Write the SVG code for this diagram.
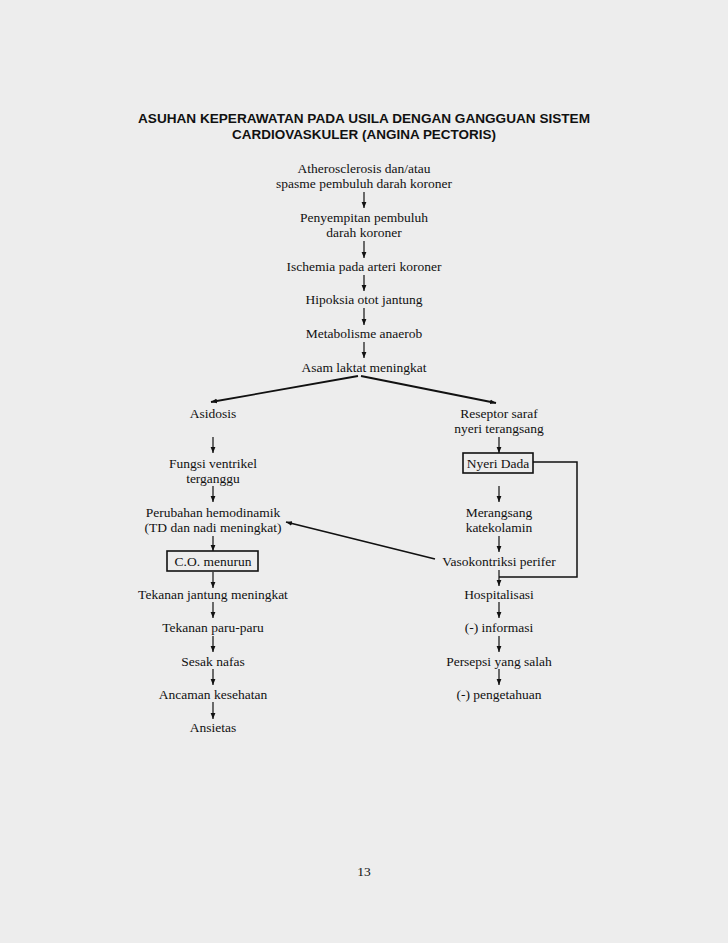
<svg xmlns="http://www.w3.org/2000/svg" width="728" height="943" viewBox="0 0 728 943">
<defs>
<marker id="ah" markerUnits="userSpaceOnUse" markerWidth="6" markerHeight="6" viewBox="0 0 6 6" refX="6" refY="3" orient="auto">
<path d="M0,0.6 L6,3 L0,5.4 Z" fill="#111"/>
</marker>
<style>
.t{font-family:"Liberation Serif","Times New Roman",serif;font-size:13.5px;fill:#111;text-anchor:middle}
.h{font-family:"Liberation Sans",Arial,sans-serif;font-size:13.5px;font-weight:bold;fill:#111;text-anchor:middle}
.a{stroke:#111;stroke-width:1.2;fill:none;marker-end:url(#ah)}
.l{stroke:#111;stroke-width:1.5;fill:none}
.b{stroke:#111;stroke-width:1.6;fill:none}
</style>
</defs>
<rect width="728" height="943" fill="#ededed"/>
<g id="title">
<text class="h" x="364" y="123" textLength="452" lengthAdjust="spacingAndGlyphs">ASUHAN KEPERAWATAN PADA USILA DENGAN GANGGUAN SISTEM</text>
<text class="h" x="364" y="139" textLength="264" lengthAdjust="spacingAndGlyphs">CARDIOVASKULER (ANGINA PECTORIS)</text>
</g>
<g id="n1"><text class="t" x="364" y="173">Atherosclerosis dan/atau</text><text class="t" x="364" y="188">spasme pembuluh darah koroner</text></g>
<g id="n2"><text class="t" x="364" y="222">Penyempitan pembuluh</text><text class="t" x="364" y="237">darah koroner</text></g>
<g id="n3"><text class="t" x="364" y="271">Ischemia pada arteri koroner</text></g>
<g id="n4"><text class="t" x="364" y="304">Hipoksia otot jantung</text></g>
<g id="n5"><text class="t" x="364" y="338">Metabolisme anaerob</text></g>
<g id="n6"><text class="t" x="364" y="372">Asam laktat meningkat</text></g>
<g id="l1"><text class="t" x="213" y="418">Asidosis</text></g>
<g id="l2"><text class="t" x="213" y="468">Fungsi ventrikel</text><text class="t" x="213" y="483">terganggu</text></g>
<g id="l3"><text class="t" x="213" y="517">Perubahan hemodinamik</text><text class="t" x="213" y="532">(TD dan nadi meningkat)</text></g>
<g id="l4"><rect class="b" x="167" y="551" width="91" height="20"/><text class="t" x="213" y="566">C.O. menurun</text></g>
<g id="l5"><text class="t" x="213" y="599">Tekanan jantung meningkat</text></g>
<g id="l6"><text class="t" x="213" y="632">Tekanan paru-paru</text></g>
<g id="l7"><text class="t" x="213" y="666">Sesak nafas</text></g>
<g id="l8"><text class="t" x="213" y="699">Ancaman kesehatan</text></g>
<g id="l9"><text class="t" x="213" y="732">Ansietas</text></g>
<g id="r1"><text class="t" x="499" y="418">Reseptor saraf</text><text class="t" x="499" y="433">nyeri terangsang</text></g>
<g id="r2"><rect class="b" x="463" y="453" width="70" height="20"/><text class="t" x="498" y="468">Nyeri Dada</text></g>
<g id="r3"><text class="t" x="499" y="517">Merangsang</text><text class="t" x="499" y="532">katekolamin</text></g>
<g id="r4"><text class="t" x="499" y="566">Vasokontriksi perifer</text></g>
<g id="r5"><text class="t" x="499" y="599">Hospitalisasi</text></g>
<g id="r6"><text class="t" x="499" y="632">(-) informasi</text></g>
<g id="r7"><text class="t" x="499" y="666">Persepsi yang salah</text></g>
<g id="r8"><text class="t" x="499" y="699">(-) pengetahuan</text></g>
<g id="page"><text class="t" x="364" y="876">13</text></g>
<g id="connectors">
<line class="a" x1="364" y1="192" x2="364" y2="208"/>
<line class="a" x1="364" y1="241" x2="364" y2="258"/>
<line class="a" x1="364" y1="275" x2="364" y2="291"/>
<line class="a" x1="364" y1="308" x2="364" y2="325"/>
<line class="a" x1="364" y1="342" x2="364" y2="358"/>
<line class="a" x1="358" y1="376" x2="211" y2="402" style="stroke-width:1.8"/>
<line class="a" x1="361" y1="376" x2="496" y2="403" style="stroke-width:1.8"/>
<line class="a" x1="213" y1="437" x2="213" y2="453"/>
<line class="a" x1="213" y1="486" x2="213" y2="502"/>
<line class="a" x1="213" y1="536" x2="213" y2="551"/>
<line class="a" x1="213" y1="572" x2="213" y2="588"/>
<line class="a" x1="213" y1="602" x2="213" y2="618"/>
<line class="a" x1="213" y1="636" x2="213" y2="652"/>
<line class="a" x1="213" y1="669" x2="213" y2="685"/>
<line class="a" x1="213" y1="702" x2="213" y2="719"/>
<line class="a" x1="499" y1="437" x2="499" y2="453"/>
<line class="a" x1="499" y1="486" x2="499" y2="502"/>
<line class="a" x1="499" y1="536" x2="499" y2="552"/>
<line class="a" x1="499" y1="570" x2="499" y2="586"/>
<line class="a" x1="499" y1="602" x2="499" y2="618"/>
<line class="a" x1="499" y1="636" x2="499" y2="652"/>
<line class="a" x1="499" y1="669" x2="499" y2="685"/>
<line class="a" x1="435" y1="559" x2="286" y2="522" style="stroke-width:1.8"/>
<polyline class="l" points="533,462 577,462 577,577 499,577"/>
</g>
</svg>
